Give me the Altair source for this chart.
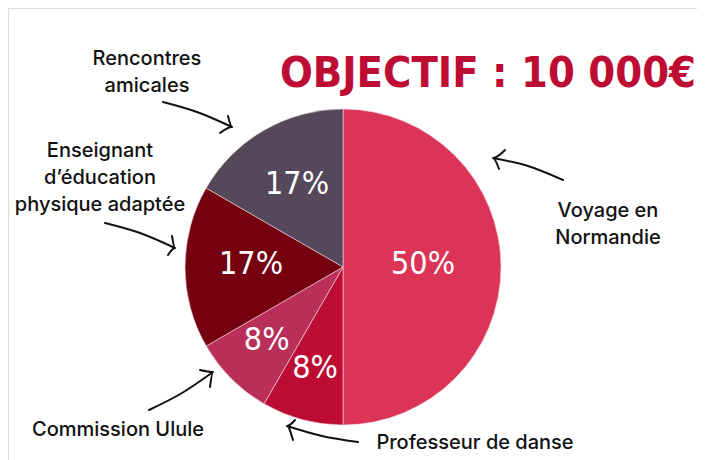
import altair as alt
import pandas as pd

# ---- data ----
categories = ["Voyage en Normandie", "Professeur de danse", "Commission Ulule",
              "Enseignant d’éducation physique adaptée", "Rencontres amicales"]
shares = [50.0, 8.33, 8.33, 16.67, 16.67]
pct_labels = ["50%", "8%", "8%", "17%", "17%"]
label_lines = [["Voyage en", "Normandie"], ["Professeur de danse"], ["Commission Ulule"],
               ["Enseignant", "d’éducation", "physique adaptée"], ["Rencontres", "amicales"]]
colors = ["#DC3457", "#BC0C33", "#B92F5A", "#740010", "#54485A"]
title_text = "OBJECTIF : 10 000€"

df = pd.DataFrame({"cat": categories, "value": shares, "pct": pct_labels,
                   "order": list(range(len(categories)))})
df["mid"] = df["value"].cumsum() - df["value"] / 2
total = float(df["value"].sum())

W, H = 689, 452
CX, CY, R = 335, 259, 158

pie = alt.Chart(df).mark_arc(outerRadius=R, stroke="#f4d8de", strokeWidth=0.6).encode(
    theta=alt.Theta("value:Q", stack=True),
    order=alt.Order("order:Q"),
    color=alt.Color("cat:N", scale=alt.Scale(domain=categories, range=colors), legend=None),
    x=alt.value(CX), y=alt.value(CY),
)

pct = alt.Chart(df).transform_calculate(
    lr="datum.value > 40 ? 80 : (datum.value > 10 ? 92 : 108)"
).mark_text(color="white", fontSize=32, font="DejaVu Sans Condensed, sans-serif",
            align="center", baseline="middle", dy=-3).encode(
    theta=alt.Theta("mid:Q", stack=None, scale=alt.Scale(domain=[0, total], range=[0, 6.283185307179586])),
    text="pct:N",
    radius=alt.Radius("lr:Q", scale=None),
    x=alt.value(CX), y=alt.value(CY),
)

# label positions (chart pixel coords): x center, first baseline
label_pos = [(600, 209), (467, 441), (110, 428), (92, 149), (139, 57)]
layers = [pie, pct]
for lines, (lx, ly) in zip(label_lines, label_pos):
    layers.append(
        alt.Chart(pd.DataFrame({"t": [lines]})).mark_text(
            font="Inter, Open Sans, sans-serif", fontSize=20, fontWeight=500, color="#111111",
            align="center", baseline="alphabetic", lineHeight=27,
        ).encode(text="t:N", x=alt.value(lx), y=alt.value(ly))
    )

title = alt.Chart(pd.DataFrame({"t": [title_text]})).mark_text(
    font="DejaVu Sans Condensed, sans-serif", fontSize=43, fontWeight="bold",
    color="#BE0D34", align="right", baseline="alphabetic",
).encode(text="t:N", x=alt.value(688), y=alt.value(79))
layers.append(title)

# hand-drawn style arrows (decoration, chart pixel coords)
arrows = [
    [(155, 94), (189, 104), (224, 119)], [(220, 108), (224, 119), (212, 125)],
    [(97, 215), (132, 225), (167, 240)], [(164, 228), (167, 240), (160, 247)],
    [(555, 172), (520, 158), (485, 150)], [(497, 142), (485, 150), (491, 161)],
    [(141, 402), (174, 385), (205, 364)], [(192, 362), (205, 364), (202, 379)],
    [(350, 434), (314, 428), (279, 418)], [(287, 412), (279, 418), (285, 432)],
]
rows = []
for i, path in enumerate(arrows):
    for j, (ax, ay) in enumerate(path):
        rows.append({"id": i, "k": j, "ax": ax, "ay": ay})
arrow_layer = alt.Chart(pd.DataFrame(rows)).mark_line(
    color="#111111", strokeWidth=2, interpolate="monotone", strokeCap="round"
).encode(
    x=alt.X("ax:Q", scale=None), y=alt.Y("ay:Q", scale=None),
    detail="id:N", order="k:Q",
)
layers.append(arrow_layer)

chart = alt.layer(*layers).resolve_scale(theta="independent").properties(
    width=W, height=H, padding=0, autosize=alt.AutoSizeParams(type="none"),
).configure_view(stroke=None).configure(background="white")

chart.save("out.html", embed_options={"renderer": "svg", "actions": False})
